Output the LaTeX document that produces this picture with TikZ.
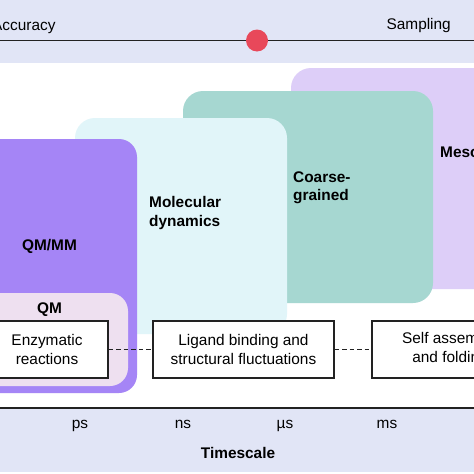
\documentclass[tikz,border=0pt]{standalone}
\usepackage{fontspec}
\setmainfont{Liberation Sans}
\definecolor{bandcol}{HTML}{E1E5F6}
\definecolor{dotred}{HTML}{E8485A}
\definecolor{mesocol}{HTML}{DDCEF8}
\definecolor{cgcol}{HTML}{A6D7D1}
\definecolor{mdcol}{HTML}{E1F5F9}
\definecolor{qmmmcol}{HTML}{A585F6}
\definecolor{qmcol}{HTML}{EEE0F0}
\definecolor{linecol}{HTML}{222222}
\tikzset{
  lbl/.style={font=\fontsize{15.4}{18.5}\selectfont, inner sep=0pt, text=black},
  blbl/.style={lbl, font=\fontsize{15.4}{18.5}\selectfont\bfseries},
  procbox/.style={draw=linecol, line width=1.3pt, fill=white, align=center,
    font=\fontsize{15.4}{19}\selectfont, inner sep=0pt, minimum height=57pt},
  region/.style={rounded corners=20pt},
  dashconn/.style={draw=linecol, line width=1.4pt, dash pattern=on 4.5pt off 3pt}
}
\begin{document}
\begin{tikzpicture}[x=1pt,y=-1pt]
\useasboundingbox (0,0) rectangle (474,474);
\clip (0,0) rectangle (474,474);
\fill[white] (0,0) rectangle (474,474);
% top band
\fill[bandcol] (0,0) rectangle (474,63);
\coordinate (tl) at (0,40.5);
\coordinate (tr) at (474,40.5);
\draw[linecol, line width=1.2pt] (tl) -- (tr);
\fill[dotred] (257,40.5) circle (11);
\node[lbl, anchor=base west] (acc) at (-8,30) {Accuracy};
\node[lbl, anchor=base east] (samp) at (451,29) {Sampling};
% bottom band
\fill[bandcol] (0,408) rectangle (474,472);
\coordinate (bl) at (0,408);
\coordinate (br) at (474,408);
\draw[linecol, line width=1.2pt] (bl) -- (br);
\node[lbl, anchor=base] (ps) at (80,428) {ps};
\node[lbl, anchor=base] (ns) at (183,428) {ns};
\node[lbl, anchor=base] (us) at (285,428) {µs};
\node[lbl, anchor=base] (ms) at (387,428) {ms};
\node[blbl, anchor=base] (ts) at (238,458) {Timescale};
% regions
\fill[mesocol, region] (291,68) rectangle (530,289);
\fill[cgcol, region] (183,91) rectangle (433,303);
\fill[mdcol, region] (75,118) rectangle (287,334);
\fill[qmmmcol, rounded corners=18pt] (-30,139) rectangle (137,393);
\fill[qmcol, rounded corners=18pt] (-30,293) rectangle (128,386);
% region labels
\node[blbl, anchor=base west] (meso) at (440,157) {Mesoscale};
\node[blbl, anchor=base west] (cg1) at (293,182) {Coarse-};
\node[blbl, anchor=base west] (cg2) at (293,200.5) {grained};
\node[blbl, anchor=base west] (md1) at (149,207.5) {Molecular};
\node[blbl, anchor=base west] (md2) at (149,226) {dynamics};
\node[blbl, anchor=base] (qmmm) at (49.5,250) {QM/MM};
\node[blbl, anchor=base] (qm) at (49.5,313) {QM};
% process boxes
\node[procbox, minimum width=122pt] (enz) at (47,349.5) {Enzymatic\\reactions};
\node[procbox, minimum width=181pt] (lig) at (243.5,349.5) {Ligand binding and\\structural fluctuations};
\node[procbox, minimum width=156pt] (self) at (450,349.5) {Self assembly\\and folding};
\draw[dashconn] (enz.east) -- (lig.west);
\draw[dashconn] (lig.east) -- (self.west);
\end{tikzpicture}
\end{document}
